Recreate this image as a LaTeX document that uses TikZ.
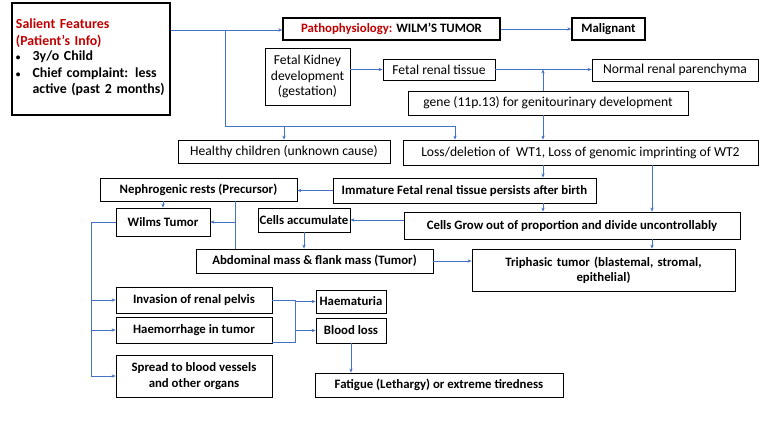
\documentclass[tikz,border=0pt]{standalone}
\usepackage{fontspec}
\setmainfont{Carlito}
\usetikzlibrary{arrows.meta}
\definecolor{conn}{RGB}{68,114,196}
\definecolor{redt}{RGB}{192,0,0}
\begin{document}
\begin{tikzpicture}[x=0.75pt,y=-0.75pt,
  box/.style={draw=black,line width=0.6pt,inner sep=1pt,align=center,font=\fontsize{10.2}{11.5}\selectfont},
  bbox/.style={box,font=\fontsize{9.6}{11.5}\selectfont\bfseries},
  ln/.style={draw=conn,line width=0.6pt},
  arr/.style={ln,-{Stealth[length=3pt,width=2.5pt]}}]
\useasboundingbox (0,0) rectangle (768,433);
\node[box,line width=1.2pt,minimum width=158*0.75pt,minimum height=112*0.75pt,text width=150*0.75pt,align=left,font=\fontsize{10.4}{12.5}\selectfont\bfseries] (sal) at (91,59)
 {\textcolor{redt}{Salient Features\\(Patient’s Info)}\\
 \begin{tabular}{@{}l@{\hspace{9pt}}p{104pt}@{}}
 {\fontsize{7}{8}\selectfont •} & 3y/o Child\\
 {\fontsize{7}{8}\selectfont •} & Chief complaint: less active (past 2 months)
 \end{tabular}};
\node[bbox,line width=1.1pt,minimum width=217*0.75pt,minimum height=22*0.75pt] (pat) at (391.5,29) {\textcolor{redt}{Pathophysiology:} WILM’S TUMOR};
\node[bbox,line width=1.1pt,minimum width=73*0.75pt,minimum height=22*0.75pt] (mal) at (608.5,29) {Malignant};
\node[box,minimum width=85*0.75pt,minimum height=57*0.75pt] (fkd) at (307.5,76.5) {Fetal Kidney\\development\\(gestation)};
\node[box,minimum width=112*0.75pt,minimum height=21*0.75pt] (frt) at (439,69.5) {Fetal renal tissue};
\node[box,minimum width=166*0.75pt,minimum height=22*0.75pt] (nrp) at (675,70) {Normal renal parenchyma};
\node[box,minimum width=280*0.75pt,minimum height=24*0.75pt] (gene) at (548,103) {gene (11p.13) for genitourinary development};
\node[box,minimum width=212*0.75pt,minimum height=23*0.75pt] (hea) at (284,151.5) {Healthy children (unknown cause)};
\node[box,minimum width=355*0.75pt,minimum height=25*0.75pt] (loss) at (580.5,152.5) {Loss/deletion of\ \ WT1, Loss of genomic imprinting of WT2};
\node[bbox,minimum width=197*0.75pt,minimum height=23*0.75pt] (nep) at (198.5,189.5) {Nephrogenic rests (Precursor)};
\node[bbox,minimum width=263*0.75pt,minimum height=25*0.75pt] (imm) at (464.5,190.5) {Immature Fetal renal tissue persists after birth};
\node[bbox,minimum width=94*0.75pt,minimum height=28*0.75pt] (wil) at (163,222) {Wilms Tumor};
\node[bbox,minimum width=92*0.75pt,minimum height=24*0.75pt] (acc) at (304,220) {Cells accumulate};
\node[bbox,minimum width=336*0.75pt,minimum height=27*0.75pt] (gro) at (572,225.5) {Cells Grow out of proportion and divide uncontrollably};
\node[bbox,minimum width=237*0.75pt,minimum height=24*0.75pt] (abd) at (314.5,261) {Abdominal mass \& flank mass (Tumor)};
\node[bbox,minimum width=263*0.75pt,minimum height=42*0.75pt,text width=230*0.75pt] (tri) at (603.5,270) {Triphasic tumor (blastemal, stromal,\\epithelial)};
\node[bbox,minimum width=156*0.75pt,minimum height=26*0.75pt] (inv) at (194,300) {Invasion of renal pelvis};
\node[bbox,minimum width=156*0.75pt,minimum height=26*0.75pt] (hae) at (194,330) {Haemorrhage in tumor};
\node[bbox,minimum width=156*0.75pt,minimum height=42*0.75pt] (spr) at (194,376) {Spread to blood vessels\\and other organs};
\node[bbox,minimum width=70*0.75pt,minimum height=23*0.75pt] (hmt) at (351,301.5) {Haematuria};
\node[bbox,minimum width=70*0.75pt,minimum height=25*0.75pt] (bl) at (351,330.5) {Blood loss};
\node[bbox,minimum width=248*0.75pt,minimum height=24*0.75pt] (fat) at (439,385) {Fatigue (Lethargy) or extreme tiredness};
% coordinates
\coordinate (j1) at (225,30);
\coordinate (j2) at (225,126);
\coordinate (j3) at (455,126);
\coordinate (gx) at (543,0);
\coordinate (cx) at (652,0);
\coordinate (nx) at (235,0);
\coordinate (wx) at (91,0);
\coordinate (hx) at (295,0);
% connectors
\draw[arr] (sal.east |- j1) -- (pat.west |- j1);
\draw[ln] (j1) -- (j2) -- (j3);
\draw[arr] (j2 -| hea.north) -- (hea.north);
\draw[arr] (j3) -- (loss.north -| j3);
\draw[arr] (pat) -- (mal);
\draw[arr] (fkd.east |- frt) -- (frt.west);
\draw[arr] (frt.east) -- (nrp.west |- frt);
\draw[arr] (gene.north -| gx) -- (frt.east -| gx);
\draw[arr] (gene.south -| gx) -- (loss.north -| gx);
\draw[arr] (loss.south -| gx) -- (imm.north -| gx);
\draw[arr] (imm.south -| gx) -- (gro.north -| gx);
\draw[arr] (loss.south -| cx) -- (gro.north -| cx);
\draw[arr] (gro.south -| cx) -- (tri.north -| cx);
\draw[arr] (imm.west) -- (nep.east |- imm.west);
\draw[arr] (nep.south -| wil.north) -- (wil.north);
\draw[ln] (nep.south -| nx) -- (abd.north -| nx);
\draw[arr] (wil.east -| nx) -- (wil.east);
\draw[arr] (gro.west |- acc) -- (acc.east);
\draw[arr] (acc.south) -- (abd.north -| acc.south);
\draw[arr] (abd.east) -- (tri.west |- abd.east);
\draw[ln] (wil.west) -- (wil.west -| wx) -- (spr.west -| wx);
\draw[arr] (inv.west -| wx) -- (inv.west);
\draw[arr] (hae.west -| wx) -- (hae.west);
\draw[arr] (spr.west -| wx) -- (spr.west);
\draw[ln] (inv.east) -- (inv.east -| hx) -- ([yshift=-9]hae.east -| hx) -- ([yshift=-9]hae.east);
\draw[arr] (hmt.west -| hx) -- (hmt.west);
\draw[arr] (bl.west -| hx) -- (bl.west);
\draw[arr] (bl.south) -- (fat.north -| bl.south);
\end{tikzpicture}
\end{document}
